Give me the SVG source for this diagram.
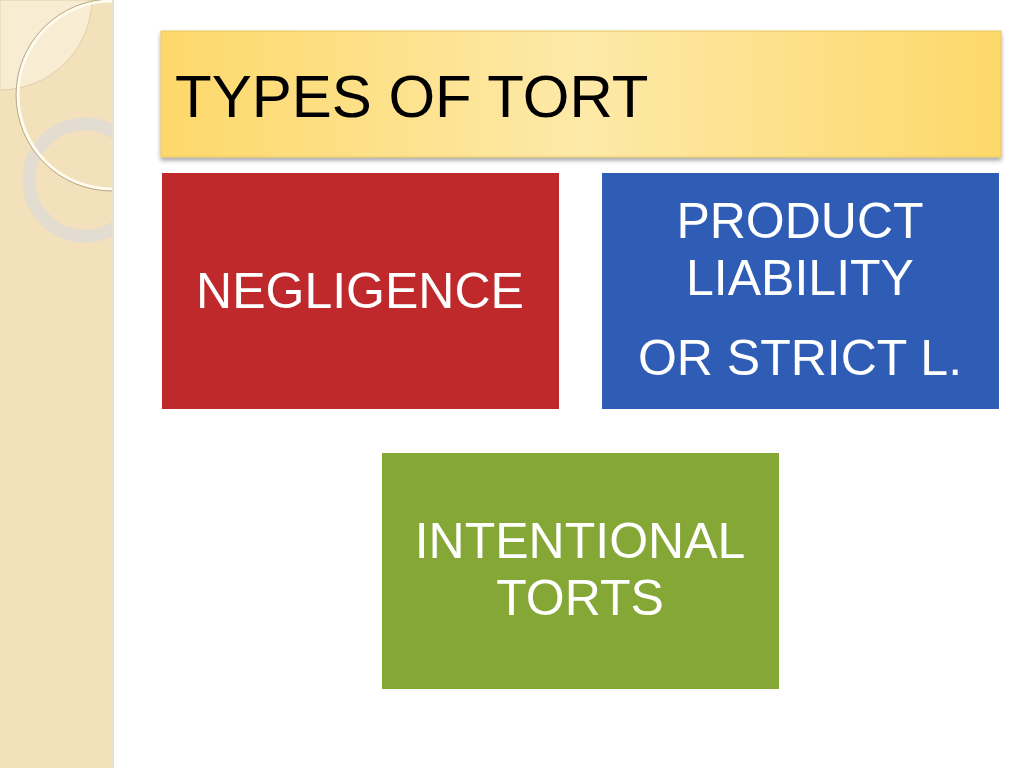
<svg xmlns="http://www.w3.org/2000/svg" width="1024" height="768" viewBox="0 0 1024 768">
<defs>
<linearGradient id="tg" x1="0" y1="0" x2="1" y2="0"><stop offset="0" stop-color="#fdd86a"/><stop offset="0.5" stop-color="#fde9a8"/><stop offset="1" stop-color="#fdd86a"/></linearGradient>
<clipPath id="strip"><rect x="0" y="0" width="113" height="768"/></clipPath>
<filter id="sh" x="-5%" y="-5%" width="110%" height="120%"><feDropShadow dx="0" dy="3" stdDeviation="2" flood-color="#000" flood-opacity="0.35"/></filter>
<style>.t{font-family:"Liberation Sans",Arial,sans-serif;font-size:50px;fill:#fff;text-anchor:middle}</style>
</defs>
<rect width="1024" height="768" fill="#fff"/>
<g id="strip-deco" clip-path="url(#strip)">
<rect width="113" height="768" fill="#f3e1bb"/>
<path d="M0,90 A92,92 0 0 0 92,0 L0,0 Z" fill="#f8ecd2" stroke="#e0cfa8"/>
<circle cx="85" cy="180" r="56" fill="none" stroke="#e2ddd0" stroke-width="13"/>
<circle cx="112" cy="95" r="94" fill="none" stroke="#fffbee" stroke-width="3"/>
<circle cx="112" cy="95" r="96" fill="none" stroke="#b9a888" stroke-width="1"/>
</g>
<line x1="113" y1="0" x2="113" y2="768" stroke="#e8e0cc" stroke-width="2"/>
<g id="title"><rect x="161" y="31" width="840" height="126" fill="url(#tg)" stroke="#e8c860" filter="url(#sh)"/>
<text x="175" y="117" font-family="Liberation Sans,Arial,sans-serif" font-size="60" fill="#000">TYPES OF TORT</text></g>
<g id="negligence"><rect x="162" y="173" width="397" height="236" fill="#c0292c"/><text class="t" x="360" y="308">NEGLIGENCE</text></g>
<g id="product"><rect x="602" y="173" width="397" height="236" fill="#2f5db6"/><text class="t" x="800" y="238">PRODUCT</text><text class="t" x="800" y="295">LIABILITY</text><text class="t" x="800" y="375">OR STRICT L.</text></g>
<g id="intentional"><rect x="382" y="453" width="397" height="236" fill="#84a735"/><text class="t" x="580" y="558">INTENTIONAL</text><text class="t" x="580" y="615">TORTS</text></g>
<g id="connectors"/>
</svg>
